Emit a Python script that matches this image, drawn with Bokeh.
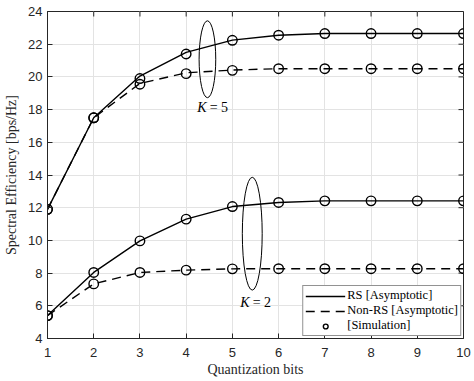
import math
from bokeh.plotting import figure
from bokeh.models import Range1d, Legend, LegendItem, FixedTicker, ColumnDataSource
from bokeh.core.properties import value
from bokeh.embed import file_html
from bokeh.resources import INLINE

bits = [1, 2, 3, 4, 5, 6, 7, 8, 9, 10]

rs_k5 = [11.9, 17.5, 20.05, 21.5, 22.25, 22.55, 22.65, 22.65, 22.65, 22.65]
nrs_k5 = [11.9, 17.5, 19.6, 20.25, 20.42, 20.5, 20.5, 20.5, 20.5, 20.5]
rs_k2 = [5.4, 8.04, 9.97, 11.3, 12.07, 12.32, 12.42, 12.42, 12.42, 12.42]
nrs_k2 = [5.4, 7.34, 8.04, 8.18, 8.26, 8.27, 8.27, 8.27, 8.27, 8.27]

sim_rs_k5 = [11.9, 17.5, 19.9, 21.4, 22.24, 22.55, 22.65, 22.65, 22.65, 22.65]
sim_nrs_k5 = [11.9, 17.5, 19.55, 20.2, 20.4, 20.5, 20.5, 20.5, 20.5, 20.5]
sim_rs_k2 = [5.4, 8.04, 9.97, 11.3, 12.07, 12.32, 12.42, 12.42, 12.42, 12.42]
sim_nrs_k2 = [5.4, 7.34, 8.04, 8.18, 8.26, 8.27, 8.27, 8.27, 8.27, 8.27]

x_ticks = [1, 2, 3, 4, 5, 6, 7, 8, 9, 10]
y_ticks = [4, 6, 8, 10, 12, 14, 16, 18, 20, 22, 24]
x_min, x_max = 1, 10
y_min, y_max = 4, 24

# annotation ellipses: center x, center y, width, height (data units)
ell_x = [4.46, 5.43]
ell_y = [21.08, 10.41]
ell_w = [0.36, 0.43]
ell_h = [4.7, 6.9]
ann_x = [4.53, 5.46]
ann_y = [18.1, 6.2]
ann_num = ["= 5", "= 2"]

AX = "#262626"
SERIF = "Liberation Serif"

p = figure(width=472, height=380, output_backend="svg", toolbar_location=None,
           x_range=Range1d(x_min, x_max), y_range=Range1d(y_min, y_max),
           min_border_left=47, min_border_right=9, min_border_top=11,
           min_border_bottom=42)

p.outline_line_color = AX
p.outline_line_width = 1
p.xgrid.grid_line_color = "#e3e3e3"
p.ygrid.grid_line_color = "#e3e3e3"
p.xgrid.ticker = FixedTicker(ticks=x_ticks)
p.ygrid.ticker = FixedTicker(ticks=y_ticks)

for ax, ticks in ((p.xaxis[0], x_ticks), (p.yaxis[0], y_ticks)):
    ax.ticker = FixedTicker(ticks=ticks)
    ax.major_tick_in = 5
    ax.major_tick_out = 0
    ax.minor_tick_in = 0
    ax.minor_tick_out = 0
    ax.axis_line_color = AX
    ax.major_tick_line_color = AX
    ax.major_label_text_font = "Liberation Sans"
    ax.major_label_text_font_size = "13px"
    ax.major_label_text_color = AX
    ax.axis_label_text_font = SERIF
    ax.axis_label_text_font_size = "14px"
    ax.axis_label_text_font_style = "normal"
    ax.axis_label_text_color = AX

p.xaxis.axis_label = "Quantization bits"
p.yaxis.axis_label = "Spectral Efficiency [bps/Hz]"
p.xaxis.major_label_standoff = 9
p.xaxis.axis_label_standoff = 2
p.yaxis.major_label_standoff = 5
p.yaxis.axis_label_standoff = 6

# mirrored tick marks on the top and right edges (MATLAB box style)
p.ray(x=x_max, y=y_ticks, length=5, length_units="screen", angle=math.pi,
      line_color=AX, line_width=1)
p.ray(x=x_ticks, y=y_max, length=5, length_units="screen", angle=-math.pi / 2,
      line_color=AX, line_width=1)

LW = 1.4
DASH = "9 6"
r1 = p.line(bits, rs_k5, line_color="black", line_width=LW)
r2 = p.line(bits, rs_k2, line_color="black", line_width=LW)
r3 = p.line(bits, nrs_k5, line_color="black", line_width=LW, line_dash=DASH)
r4 = p.line(bits, nrs_k2, line_color="black", line_width=LW, line_dash=DASH)

sim_x = bits * 4
sim_y = sim_rs_k5 + sim_nrs_k5 + sim_rs_k2 + sim_nrs_k2
r5 = p.scatter(sim_x, sim_y, marker="circle", size=9.5, fill_color=None,
               line_color="black", line_width=1.4)

p.ellipse(x=ell_x, y=ell_y, width=ell_w, height=ell_h, fill_color=None,
          line_color="black", line_width=1)

src = ColumnDataSource(dict(x=ann_x, y=ann_y, num=ann_num))
p.text(x="x", y="y", text=value("K"), source=src, text_font=value(SERIF),
       text_font_style="italic", text_font_size="14px", text_align="right",
       text_baseline="middle", x_offset=-4, text_color="black")
p.text(x="x", y="y", text="num", source=src, text_font=value(SERIF),
       text_font_size="14px", text_align="left", text_baseline="middle",
       x_offset=-1, text_color="black")

legend = Legend(items=[
    LegendItem(label="RS [Asymptotic]", renderers=[r1]),
    LegendItem(label="Non-RS [Asymptotic]", renderers=[r3]),
    LegendItem(label="[Simulation]", renderers=[r5]),
], location="bottom_right")
legend.label_text_font = SERIF
legend.label_text_font_size = "12.5px"
legend.label_text_line_height = 0.9
legend.label_text_color = "black"
legend.border_line_color = AX
legend.border_line_width = 1
legend.glyph_width = 40
legend.glyph_height = 12
legend.label_height = 12
legend.label_standoff = 2
legend.spacing = 0
legend.padding = 2
legend.margin = 2
legend.background_fill_alpha = 1
p.add_layout(legend)

open("out.html", "w").write(file_html(p, INLINE))
